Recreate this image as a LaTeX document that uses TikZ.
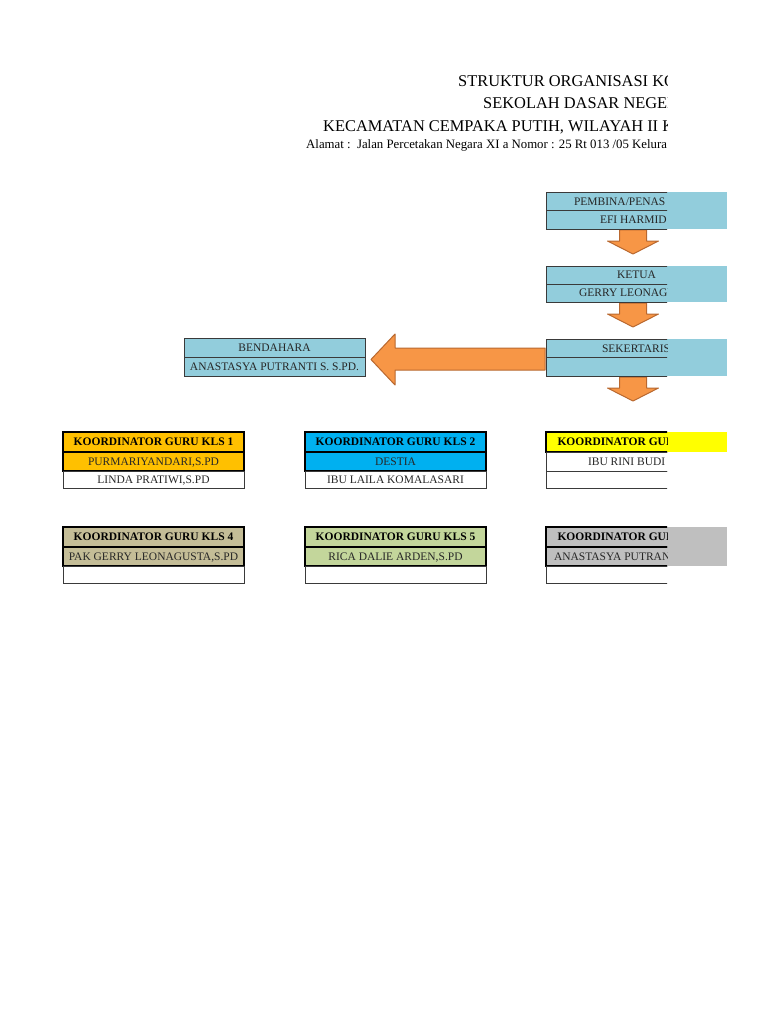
\documentclass[tikz,border=0pt]{standalone}
\usepackage{fontspec}
\setmainfont{Liberation Serif}
\usetikzlibrary{positioning,calc}

\definecolor{biru}{HTML}{92CDDC}
\definecolor{oranye}{HTML}{F79646}
\definecolor{oranyetua}{HTML}{B9682F}
\definecolor{emas}{HTML}{FFC000}
\definecolor{birulaut}{HTML}{00B0F0}
\definecolor{kuning}{HTML}{FFFF00}
\definecolor{coklat}{HTML}{C4BD97}
\definecolor{hijau}{HTML}{C3D69B}
\definecolor{abu}{HTML}{BFBFBF}
\definecolor{garis}{HTML}{3A3A3A}

\begin{document}
\begin{tikzpicture}
[x=1pt,y=-1pt,
 huruf/.style={font=\fontsize{11.5}{13}\selectfont,text=black!85,inner sep=0pt,outer sep=0pt,text height=7.6pt,text depth=0pt},
 sel/.style={huruf,minimum width=181pt,minimum height=19pt},
 tipis/.style={draw=garis,line width=0.8pt},
 tebal/.style={draw=black,line width=1.6pt},
 kepala/.style={font=\bfseries\fontsize{11.5}{13}\selectfont,text=black},
 panah/.style={fill=oranye,draw=oranyetua,line width=1pt,line join=round},
]

\useasboundingbox (0,0) rectangle (768,1024);

% the cells of the right column (their fill is not clipped)
\node[sel,fill=biru,minimum height=18.5pt] (pb1) at (636.5,201.25) {};
\node[sel,fill=biru,minimum height=18.5pt,below=0pt of pb1] (pb2) {};
\node[sel,fill=biru,minimum height=18pt] (kt1) at (636.5,275) {};
\node[sel,fill=biru,minimum height=18pt,below=0pt of kt1] (kt2) {};
\node[sel,fill=biru,minimum height=18.5pt] (sk1) at (636.5,348.25) {};
\node[sel,fill=biru,minimum height=18.5pt,below=0pt of sk1] (sk2) {};
\node[sel,fill=kuning,minimum height=20pt] (k3a) at (636.5,442) {};
\node[sel,below=0pt of k3a] (k3b) {};
\node[sel,minimum height=17pt,below=0pt of k3b] (k3c) {};
\node[sel,fill=abu,minimum height=20pt] (k6a) at (636.5,537) {};
\node[sel,fill=abu,below=0pt of k6a] (k6b) {};
\node[sel,minimum height=17pt,below=0pt of k6b] (k6c) {};

% the arrows
\draw[panah] ($(pb2.south)+(-17,1)$) -- ++(27,0) -- ++(0,11) -- ++(12,0) -- ++(-25.5,13) -- ++(-25.5,-13) -- ++(12,0) -- cycle;
\draw[panah] ($(kt2.south)+(-17,1)$) -- ++(27,0) -- ++(0,11) -- ++(12,0) -- ++(-25.5,13) -- ++(-25.5,-13) -- ++(12,0) -- cycle;
\draw[panah] ($(sk2.south)+(-17,1)$) -- ++(27,0) -- ++(0,11) -- ++(12,0) -- ++(-25.5,13) -- ++(-25.5,-13) -- ++(12,0) -- cycle;
\draw[panah] ($(sk1.south west)+(-1,-9.5)$) -- ++(0,22) -- ++(-150,0) -- ++(0,15) -- ++(-24,-25.5) -- ++(24,-25.5) -- ++(0,14) -- cycle;

% bendahara
\node[sel,tipis,fill=biru] (bd1) at (274.5,347.5) {BENDAHARA};
\node[sel,tipis,fill=biru,below=0pt of bd1] (bd2) {ANASTASYA PUTRANTI S. S.PD.};

% koordinator guru
\node[sel,tebal,kepala,fill=emas,minimum height=20pt] (k1a) at (153.5,442) {KOORDINATOR GURU KLS 1};
\node[sel,tebal,fill=emas,below=0pt of k1a] (k1b) {PURMARIYANDARI,S.PD};
\node[sel,tipis,minimum height=17pt,below=0pt of k1b] (k1c) {LINDA PRATIWI,S.PD};

\node[sel,tebal,kepala,fill=birulaut,minimum height=20pt] (k2a) at (395.5,442) {KOORDINATOR GURU KLS 2};
\node[sel,tebal,fill=birulaut,below=0pt of k2a] (k2b) {DESTIA};
\node[sel,tipis,minimum height=17pt,below=0pt of k2b] (k2c) {IBU LAILA KOMALASARI};

\node[sel,tebal,kepala,fill=coklat,minimum height=20pt] (k4a) at (153.5,537) {KOORDINATOR GURU KLS 4};
\node[sel,tebal,fill=coklat,below=0pt of k4a] (k4b) {PAK GERRY LEONAGUSTA,S.PD};
\node[sel,tipis,minimum height=17pt,below=0pt of k4b] (k4c) {};

\node[sel,tebal,kepala,fill=hijau,minimum height=20pt] (k5a) at (395.5,537) {KOORDINATOR GURU KLS 5};
\node[sel,draw=black,line width=1.2pt,fill=hijau,below=0pt of k5a] (k5b) {RICA DALIE ARDEN,S.PD};
\node[sel,tipis,minimum height=17pt,below=0pt of k5b] (k5c) {};

% everything cut at the right edge
\begin{scope}
\clip (0,0) rectangle (667,1024);

\node[anchor=base west,inner sep=0pt,font=\fontsize{16.4}{20}\selectfont] (jd1) at (458,87) {STRUKTUR ORGANISASI KO};
\node[anchor=base west,inner sep=0pt,font=\fontsize{16.4}{20}\selectfont] (jd2) at (483,109) {SEKOLAH DASAR NEGER};
\node[anchor=base west,inner sep=0pt,font=\fontsize{16.4}{20}\selectfont] (jd3) at (323,132) {KECAMATAN CEMPAKA PUTIH, WILAYAH II K};
\node[anchor=base west,inner sep=0pt,font=\fontsize{12.8}{14}\selectfont] (jd4) at (306,149) {Alamat :\ \ Jalan Percetakan Negara XI a Nomor : 25 Rt 013 /05 Kelura};

\draw[tipis] (pb1.north west) rectangle (pb2.south east);
\draw[tipis] (pb1.south west) -- (pb1.south east);
\draw[tipis] (kt1.north west) rectangle (kt2.south east);
\draw[tipis] (kt1.south west) -- (kt1.south east);
\draw[tipis] (sk1.north west) rectangle (sk2.south east);
\draw[tipis] (sk1.south west) -- (sk1.south east);

\draw[tebal] (k3a.north west) rectangle (k3a.south east);
\draw[tipis] (k3b.north west) rectangle (k3b.south east);
\draw[tipis] (k3c.north west) rectangle (k3c.south east);
\draw[tebal] (k6a.north west) rectangle (k6a.south east);
\draw[tebal] (k6b.north west) rectangle (k6b.south east);
\draw[tipis] (k6c.north west) rectangle (k6c.south east);

\node[huruf,anchor=west] (tpb1) at (574,201.25) {PEMBINA/PENAS};
\node[huruf,anchor=west] (tpb2) at (600,219.75) {EFI HARMID};
\node[huruf] (tkt1) at (kt1) {KETUA};
\node[huruf,anchor=west] (tkt2) at (579,293) {GERRY LEONAGU};
\node[huruf,anchor=west] (tsk1) at (602,348.25) {SEKERTARIS};
\node[huruf,kepala,anchor=west] (tk3a) at (557.5,442) {KOORDINATOR GUR};
\node[huruf,anchor=west] (tk3b) at (588,461.5) {IBU RINI BUDI};
\node[huruf,kepala,anchor=west] (tk6a) at (557.5,537) {KOORDINATOR GUR};
\node[huruf,anchor=west] (tk6b) at (554,556.5) {ANASTASYA PUTRAN};
\end{scope}

\end{tikzpicture}
\end{document}
